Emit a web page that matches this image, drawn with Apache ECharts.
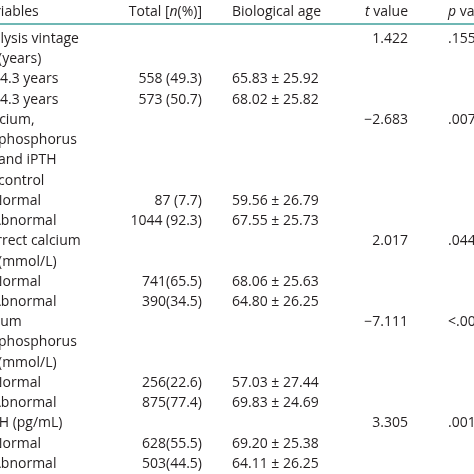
<!DOCTYPE html>
<html>
<head>
<meta charset="utf-8">
<script src="https://cdn.jsdelivr.net/npm/echarts@6/dist/echarts.min.js"></script>
<style>html,body{margin:0;padding:0;background:#fff}#main{width:474px;height:474px}</style>
</head>
<body>
<div id="main"></div>
<script>
// table contents, one entry per row
var labels = ['Dialysis vintage', '(years)', '≤4.3 years', '>4.3 years',
	'Calcium,', 'phosphorus', 'and iPTH', 'control', 'Normal', 'Abnormal',
	'Correct calcium', '(mmol/L)', 'Normal', 'Abnormal',
	'Serum', 'phosphorus', '(mmol/L)', 'Normal', 'Abnormal',
	'iPTH (pg/mL)', 'Normal', 'Abnormal'];
var levels = ['m', 'c', 's', 's', 'm', 'c', 'c', 'c', 's', 's', 'm', 'c', 's', 's', 'm', 'c', 'c', 's', 's', 'm', 's', 's'];
var totals = ['', '', '558 (49.3)', '573 (50.7)', '', '', '', '', '87 (7.7)', '1044 (92.3)',
	'', '', '741(65.5)', '390(34.5)', '', '', '', '256(22.6)', '875(77.4)', '', '628(55.5)', '503(44.5)'];
var bioAge = ['', '', '65.83 ± 25.92', '68.02 ± 25.82', '', '', '', '', '59.56 ± 26.79', '67.55 ± 25.73',
	'', '', '68.06 ± 25.63', '64.80 ± 26.25', '', '', '', '57.03 ± 27.44', '69.83 ± 24.69', '', '69.20 ± 25.38', '64.11 ± 26.25'];
var tValues = ['1.422', '', '', '', '−2.683', '', '', '', '', '', '2.017', '', '', '', '−7.111', '', '', '', '', '3.305', '', ''];
var pValues = ['.155', '', '', '', '.007', '', '', '', '', '', '.044', '', '', '', '<.001', '', '', '', '', '.001', '', ''];
var headers = ['Variables', 'Total [{i|n}(%)]', 'Biological age', '{i|t} value', '{i|p} value'];

var HEADER_ROW = -1.33;
var indent = { m: -21, c: -2, s: -8 };
var cols = [
	{ x: 0, align: 'left' },
	{ x: 202, align: 'right' },
	{ x: 232, align: 'left' },
	{ x: 408, align: 'right' },
	{ x: 448, align: 'left' }
];

var cells = [];
headers.forEach(function (h, c) {
	cells.push([c === 0 ? indent.m : cols[c].x, HEADER_ROW, h, cols[c].align]);
});
labels.forEach(function (t, r) {
	cells.push([indent[levels[r]], r, t, 'left']);
	[totals, bioAge, tValues, pValues].forEach(function (arr, k) {
		if (arr[r]) cells.push([cols[k + 1].x, r, arr[r], cols[k + 1].align]);
	});
});

var myChart = echarts.init(document.getElementById('main'));
var font = '"Open Sans", sans-serif';
var option = {
	animation: false,
	grid: { left: 0, right: 0, top: 0, bottom: 0 },
	xAxis: { type: 'value', min: 0, max: 474, show: false },
	yAxis: { type: 'value', inverse: true, min: -1.927, max: 21.5, show: false },
	series: [{
		type: 'custom',
		data: cells,
		renderItem: function (params, api) {
			var p = api.coord([api.value(0), api.value(1)]);
			return {
				type: 'text',
				style: {
					x: p[0], y: p[1],
					text: cells[params.dataIndex][2],
					align: cells[params.dataIndex][3],
					verticalAlign: 'middle',
					fill: '#231f20',
					font: '14px ' + font,
					rich: { i: { fontStyle: 'italic', fontSize: 14, fontFamily: font, fill: '#231f20' } }
				}
			};
		},
		markLine: {
			silent: true,
			symbol: 'none',
			label: { show: false },
			lineStyle: { color: '#3f9f9b', width: 1.5, type: 'solid' },
			data: [{ yAxis: -0.73 }]
		}
	}]
};
myChart.setOption(option);
</script>
</body>
</html>
